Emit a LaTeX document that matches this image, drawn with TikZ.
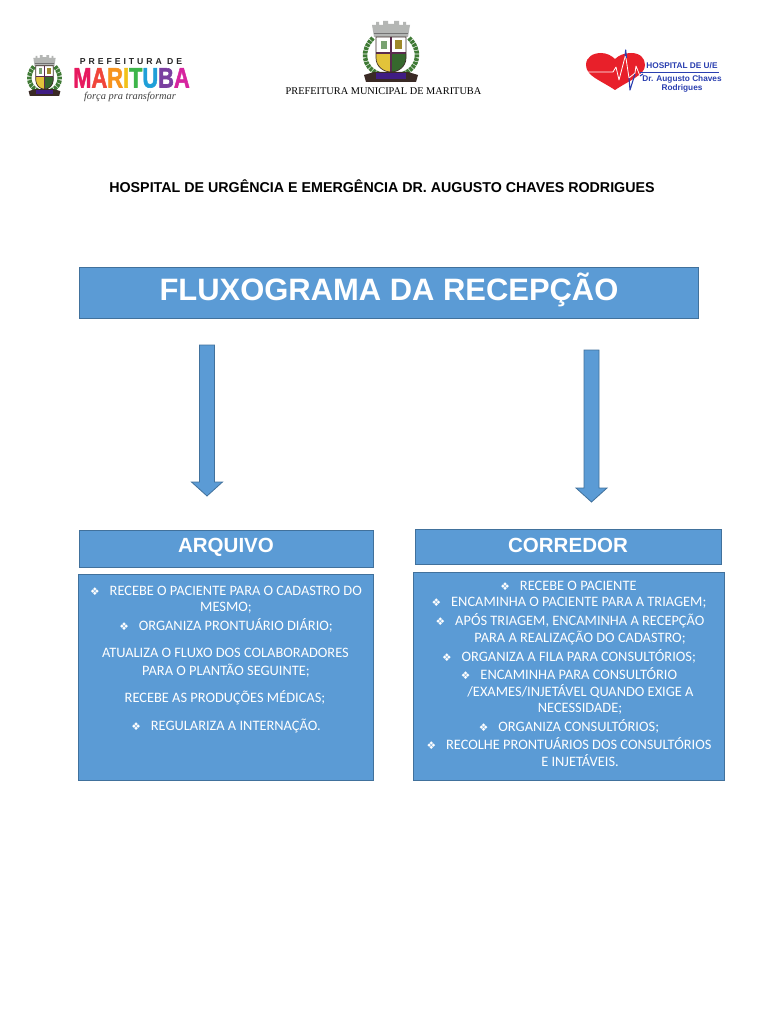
\documentclass[tikz,border=0pt]{standalone}
\usepackage{fontspec}
\setmainfont{Liberation Sans}
\newfontfamily\bodyfont{Carlito}
\newfontfamily\seriffont{Liberation Serif}
\newfontfamily\dingfont{DejaVu Sans}
\newfontfamily\spacedfont[LetterSpace=34]{Liberation Sans}
\newfontfamily\heavyfont[FakeBold=2]{Liberation Sans Bold}
\definecolor{boxfill}{HTML}{5B9BD5}
\definecolor{boxline}{HTML}{41719C}
\definecolor{heartred}{HTML}{E8202A}
\definecolor{hospblue}{HTML}{2A3FB0}
\definecolor{crestgrey}{HTML}{B4B6B4}
\definecolor{crestgreen}{HTML}{3F7A35}
\definecolor{crestyellow}{HTML}{E2C33A}
\definecolor{crestpurple}{HTML}{5B2A4E}
\definecolor{crestdark}{HTML}{3A2A25}
\definecolor{mA}{HTML}{E7195F}
\definecolor{mB}{HTML}{F0453A}
\definecolor{mC}{HTML}{F7941D}
\definecolor{mD}{HTML}{F2C21A}
\definecolor{mE}{HTML}{3DB54A}
\definecolor{mF}{HTML}{1F9FD8}
\definecolor{mG}{HTML}{7A3FA0}
\definecolor{mH}{HTML}{D6249F}
\newcommand{\dia}{{\dingfont\fontsize{8}{8}\selectfont ❖}\hspace{7.5pt}}
\newcommand{\crestshape}{%
  % wreath
  \draw[crestgreen,line width=3.4pt,dash pattern=on 2.2pt off 0.6pt] (-18,-15) .. controls (-30,-3) and (-29,14) .. (-12,21);
  \draw[crestgreen,line width=3.4pt,dash pattern=on 2.2pt off 0.6pt] (18,-15) .. controls (30,-3) and (29,14) .. (12,21);
  % crown
  \fill[crestgrey] (-17,-16)--(-19,-28)--(-15,-28)--(-15,-31)--(-12,-31)--(-12,-28)--(-8,-28)--(-8,-32)--(-3,-32)--(-3,-29)--(3,-29)--(3,-32)--(8,-32)--(8,-28)--(12,-28)--(12,-31)--(15,-31)--(15,-28)--(19,-28)--(17,-16)--cycle;
  \draw[black!55,line width=0.5pt] (-17,-20)--(17,-20);
  % shield
  \fill[white] (-15,-16) rectangle (15,1);
  \fill[crestyellow] (-15,1) -- (0,1) -- (0,19) .. controls (-8,19) and (-15,13) .. (-15,5) -- cycle;
  \fill[crestgreen!85!black] (15,1) -- (0,1) -- (0,19) .. controls (8,19) and (15,13) .. (15,5) -- cycle;
  \fill[crestgreen!70] (-10,-12) rectangle (-4,-4);
  \fill[crestyellow!70!black] (4,-13) rectangle (11,-4);
  \draw[crestpurple,line width=1.4pt] (0,-16)--(0,19) (-15,0)--(15,0);
  \draw[crestdark,line width=0.5pt] (-15,-16)--(-15,5) .. controls (-15,13) and (-8,19) .. (0,19) .. controls (8,19) and (15,13) .. (15,5) -- (15,-16) -- cycle;
  % ribbon
  \fill[crestdark] (-27,22)--(-17,19)--(17,19)--(27,22)--(25,29)--(-25,29)--cycle;
  \fill[crestpurple!70!blue] (-15,20.5) rectangle (15,26.5);
}
\begin{document}
\begin{tikzpicture}[x=0.75pt,y=-0.75pt,
  panel/.style={draw=boxline,fill=boxfill,line width=0.6pt,inner sep=0pt},
  flowarrow/.style={draw=boxline,fill=boxfill,line width=0.6pt,line join=miter},
  bodyline/.style={text=white,font=\bodyfont\fontsize{10.8}{12}\selectfont,inner sep=0pt,anchor=center},
  titletext/.style={text=white,font=\bfseries\fontsize{15.4}{17}\selectfont,inner sep=0pt},
  hosptext/.style={text=hospblue,font=\bfseries\fontsize{6.2}{8}\selectfont,inner sep=0pt}]
\useasboundingbox (0,0) rectangle (768,1024);
\fill[white] (0,0) rectangle (768,1024);

% left logo
\begin{scope}[shift={(44.5,76.5)},x=0.44pt,y=-0.5pt]\crestshape\end{scope}
\node[inner sep=0pt,font=\spacedfont\bfseries\fontsize{6.5}{8}\selectfont,text=black!85] (pref) at (131,62) {PREFEITURA DE};
\node[inner sep=0pt,xscale=0.78,transform shape,font=\heavyfont\fontsize{21}{23}\selectfont] (marit) at (131.5,78) {\textcolor{mA}{M}\textcolor{mB}{A}\textcolor{mC}{R}\textcolor{mD}{I}\textcolor{mE}{T}\textcolor{mF}{U}\textcolor{mG}{B}\textcolor{mH}{A}};
\node[inner sep=0pt,font=\seriffont\itshape\fontsize{7.8}{9}\selectfont,text=black!75] (forca) at (130,97) {força pra transformar};

% centre logo
\begin{scope}[shift={(391,53)},x=0.75pt,y=-0.75pt]\crestshape\end{scope}

% right logo
\fill[heartred] (615,90) .. controls (600,80) and (586,76) .. (586,65) .. controls (586,57) and (593,53) .. (601,53) .. controls (607,53) and (612,56) .. (615,59) .. controls (619,55) and (625,53) .. (631,53) .. controls (640,53) and (645,58) .. (645,65) .. controls (645,75) and (630,80) .. (615,90) -- cycle;
\draw[white,line width=0.6pt,line join=round] (588,72)--(613,72)--(616,67)--(619,80)--(625.5,55)--(629,78)--(635,73)--(636,66)--(640,76);
\draw[hospblue,line width=0.8pt,line join=round] (625,56)--(625.7,50)--(626.5,58) (629,78)--(630,90)--(635,74) (640,76)--(643,74);
\draw[hospblue,line width=0.6pt] (640,72.5)--(719,72.5);
\node[hosptext] (h1) at (682,66) {HOSPITAL DE U/E};
\node[hosptext] (h2) at (682,79) {Dr. Augusto Chaves};
\node[hosptext] (h3) at (682,88) {Rodrigues};

% header texts
\node[inner sep=0pt,font=\seriffont\fontsize{7.75}{9}\selectfont] (pm) at (383.5,91.5) {PREFEITURA MUNICIPAL DE MARITUBA};
\node[inner sep=0pt,font=\bfseries\fontsize{10.7}{12}\selectfont] (hosp) at (382,186) {HOSPITAL DE URGÊNCIA E EMERGÊNCIA DR. AUGUSTO CHAVES RODRIGUES};

% title
\node[panel,minimum width=619*0.75pt,minimum height=51*0.75pt] (title) at (389,293) {};
\node[titletext,font=\bfseries\fontsize{23.2}{25}\selectfont] (titlet) at (389,290) {FLUXOGRAMA DA RECEPÇÃO};

% arrows
\draw[flowarrow] (199.5,345)--(214.5,345)--(214.5,482)--(222.5,482)--(207,496)--(191.5,482)--(199.5,482)--cycle;
\draw[flowarrow] (584,350)--(599,350)--(599,488)--(607,488)--(591.5,502)--(576,488)--(584,488)--cycle;

% heading boxes
\node[panel,minimum width=294*0.75pt,minimum height=37*0.75pt] (arq) at (226,548.5) {};
\node[titletext] (arqt) at (226,547) {ARQUIVO};
\node[panel,minimum width=306*0.75pt,minimum height=35*0.75pt] (cor) at (568,547) {};
\node[titletext] (cort) at (568,545) {CORREDOR};

% body boxes
\node[panel,minimum width=295*0.75pt,minimum height=206*0.75pt] (arqb) at (225.5,677.5) {};
\node[panel,minimum width=311*0.75pt,minimum height=208*0.75pt] (corb) at (568.5,676.5) {};

\node[bodyline] (a1) at (226,590.5) {\dia RECEBE O PACIENTE PARA O CADASTRO DO};
\node[bodyline] (a2) at (226,608) {MESMO;};
\node[bodyline] (a3) at (226,625) {\dia ORGANIZA PRONTUÁRIO DIÁRIO;};
\node[bodyline] (a4) at (225.5,653) {ATUALIZA O FLUXO DOS COLABORADORES};
\node[bodyline] (a5) at (226,671) {PARA O PLANTÃO SEGUINTE;};
\node[bodyline] (a6) at (225,698) {RECEBE AS PRODUÇÕES MÉDICAS;};
\node[bodyline] (a7) at (226,725.5) {\dia REGULARIZA A INTERNAÇÃO.};

\node[bodyline] (c1) at (568.5,585.5) {\dia RECEBE O PACIENTE};
\node[bodyline] (c2) at (569,603) {\dia ENCAMINHA O PACIENTE PARA A TRIAGEM;};
\node[bodyline] (c3) at (570,621) {\dia APÓS TRIAGEM, ENCAMINHA A RECEPÇÃO};
\node[bodyline] (c4) at (580,638) {PARA A REALIZAÇÃO DO CADASTRO;};
\node[bodyline] (c5) at (569,656) {\dia ORGANIZA A FILA PARA CONSULTÓRIOS;};
\node[bodyline] (c6) at (569,673.5) {\dia ENCAMINHA PARA CONSULTÓRIO};
\node[bodyline] (c7) at (580.5,691) {/EXAMES/INJETÁVEL QUANDO EXIGE A};
\node[bodyline] (c8) at (580,708.5) {NECESSIDADE;};
\node[bodyline] (c9) at (569,726) {\dia ORGANIZA CONSULTÓRIOS;};
\node[bodyline] (c10) at (569,743.5) {\dia RECOLHE PRONTUÁRIOS DOS CONSULTÓRIOS};
\node[bodyline] (c11) at (580,761) {E INJETÁVEIS.};
\end{tikzpicture}
\end{document}
